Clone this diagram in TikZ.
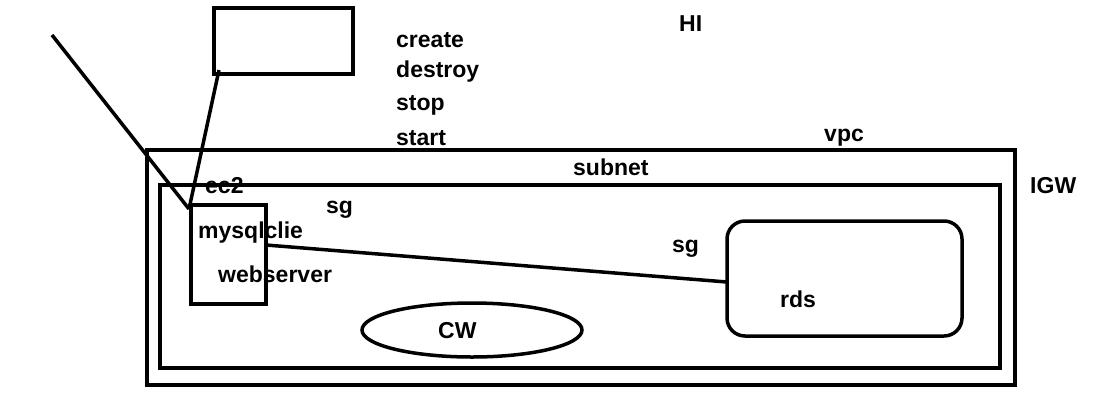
\documentclass[tikz,border=0pt]{standalone}
\usepackage{fontspec}
\setmainfont{Liberation Sans}
\usetikzlibrary{shapes.geometric}
\begin{document}
\begin{tikzpicture}[x=1pt,y=-1pt,
  box/.style={draw,line width=3.5pt},
  lbl/.style={font=\bfseries\fontsize{23}{25}\selectfont,inner sep=0pt,anchor=west}]
\useasboundingbox[fill=white] (0,0) rectangle (1107,416);
\draw[box] (214,8) rectangle (353,74);
\node[lbl] (create) at (396,40) {create};
\node[lbl] (destroy) at (396,72) {destroy};
\node[lbl] (stop) at (396,105) {stop};
\node[lbl] (start) at (396,138) {start};
\node[lbl] (hi) at (679,24) {HI};
\draw[box] (147,150) rectangle (1015,385);
\draw[box] (160,185) rectangle (1000,368);
\node[lbl] (vpc) at (824,138) {vpc};
\node[lbl] (subnet) at (573,167) {subnet};
\node[lbl] (igw) at (1030,186) {IGW};
\node[draw,line width=3.5pt,minimum width=75pt,minimum height=99pt,inner sep=0pt] (ec2) at (228.5,254.5) {};
\node[draw,line width=3.5pt,rounded corners=18pt,minimum width=235pt,minimum height=115pt] (rds) at (844.5,278.5) {};
\node[draw,ellipse,line width=3.5pt,minimum width=220pt,minimum height=54pt] (cw) at (472,330) {};
\node[lbl] at (205,186) {ec2};
\node[lbl] at (326,210) {sg};
\node[lbl] at (198,233) {mysqlclie};
\node[lbl] at (218,274) {webserver};
\node[lbl] at (672,249) {sg};
\node[lbl] at (780,299) {rds};
\node[lbl] at (438,331) {CW};
\coordinate (a) at (52,35);
\coordinate (b) at (189,209);
\coordinate (c) at (219,70);
\coordinate (d) at (266,245);
\coordinate (e) at (727,282);
\draw[line width=3.5pt] (a) -- (b);
\draw[line width=3.5pt] (c) -- (b);
\draw[line width=3.5pt] (d) -- (e);
\end{tikzpicture}
\end{document}
